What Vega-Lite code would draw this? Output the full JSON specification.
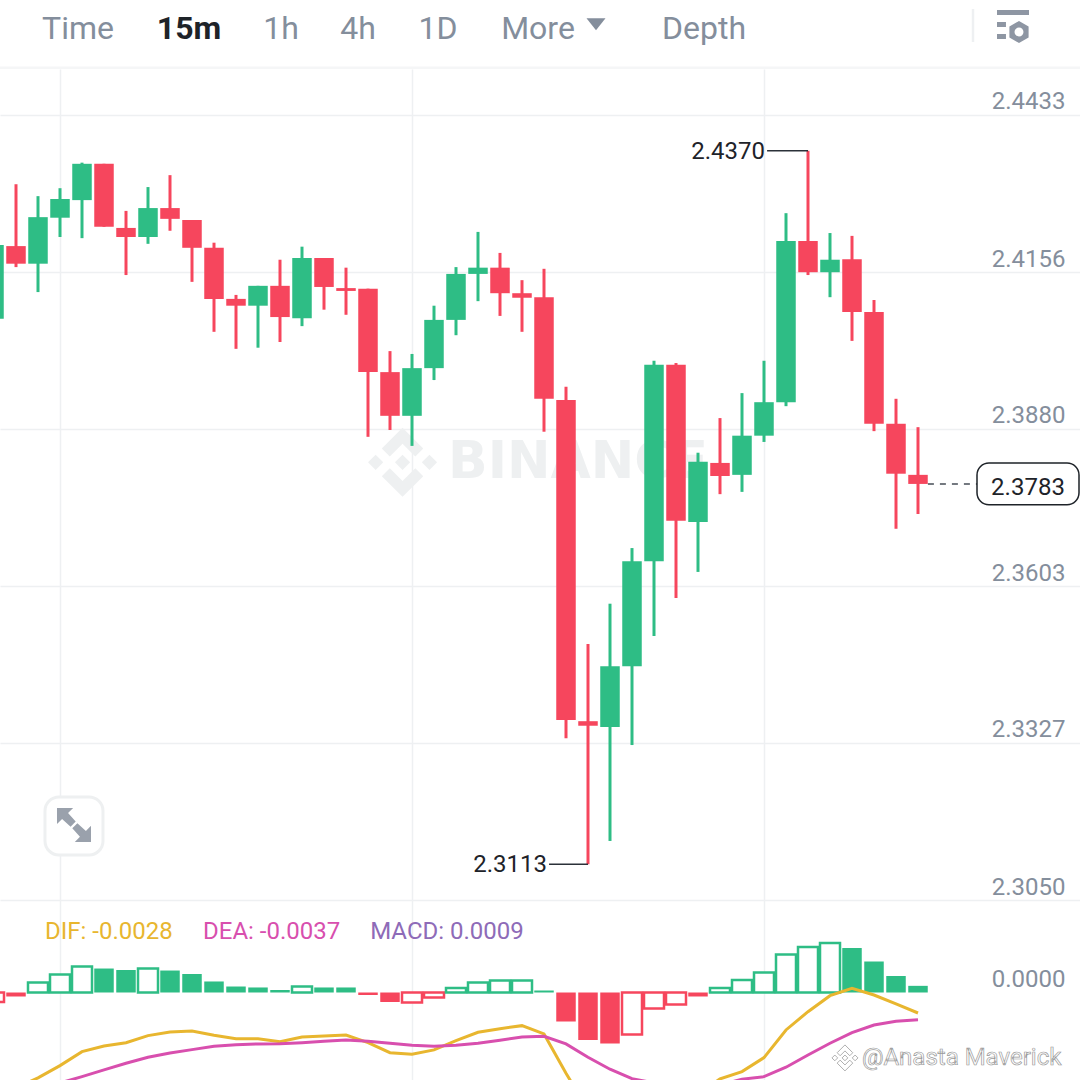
{
  "$schema": "https://vega.github.io/schema/vega-lite/v6.json",
  "description": "BNB style 15m candlestick chart with MACD panel",
  "padding": 0,
  "spacing": 0,
  "bounds": "flush",
  "background": "#ffffff",
  "config": {
    "view": {"stroke": null},
    "text": {"font": "Roboto"},
    "axis": {"labelFont": "Roboto"}
  },
  "datasets": {
    "one": [{}],
    "candles": [
      {"i":0,"open":2.4074,"high":2.4204,"low":2.4074,"close":2.4204},
      {"i":1,"open":2.4202,"high":2.4311,"low":2.4165,"close":2.4171},
      {"i":2,"open":2.4171,"high":2.4290,"low":2.4121,"close":2.4253},
      {"i":3,"open":2.4252,"high":2.4304,"low":2.4218,"close":2.4285},
      {"i":4,"open":2.4283,"high":2.4349,"low":2.4216,"close":2.4347},
      {"i":5,"open":2.4347,"high":2.4347,"low":2.4236,"close":2.4236},
      {"i":6,"open":2.4234,"high":2.4264,"low":2.4151,"close":2.4218},
      {"i":7,"open":2.4218,"high":2.4306,"low":2.4206,"close":2.4269},
      {"i":8,"open":2.4269,"high":2.4327,"low":2.4229,"close":2.4250},
      {"i":9,"open":2.4248,"high":2.4248,"low":2.4139,"close":2.4199},
      {"i":10,"open":2.4199,"high":2.4208,"low":2.4051,"close":2.4109},
      {"i":11,"open":2.4109,"high":2.4116,"low":2.4021,"close":2.4097},
      {"i":12,"open":2.4097,"high":2.4132,"low":2.4023,"close":2.4132},
      {"i":13,"open":2.4132,"high":2.4178,"low":2.4033,"close":2.4077},
      {"i":14,"open":2.4075,"high":2.4201,"low":2.4061,"close":2.4181},
      {"i":15,"open":2.4181,"high":2.4181,"low":2.4090,"close":2.4130},
      {"i":16,"open":2.4128,"high":2.4164,"low":2.4081,"close":2.4123},
      {"i":17,"open":2.4127,"high":2.4127,"low":2.3866,"close":2.3980},
      {"i":18,"open":2.3980,"high":2.4017,"low":2.3878,"close":2.3903},
      {"i":19,"open":2.3903,"high":2.4012,"low":2.3850,"close":2.3987},
      {"i":20,"open":2.3987,"high":2.4097,"low":2.3966,"close":2.4072},
      {"i":21,"open":2.4072,"high":2.4165,"low":2.4045,"close":2.4153},
      {"i":22,"open":2.4153,"high":2.4227,"low":2.4105,"close":2.4164},
      {"i":23,"open":2.4164,"high":2.4190,"low":2.4079,"close":2.4119},
      {"i":24,"open":2.4119,"high":2.4142,"low":2.4051,"close":2.4111},
      {"i":25,"open":2.4112,"high":2.4162,"low":2.3875,"close":2.3933},
      {"i":26,"open":2.3931,"high":2.3954,"low":2.3335,"close":2.3367},
      {"i":27,"open":2.3365,"high":2.3501,"low":2.3113,"close":2.3357},
      {"i":28,"open":2.3355,"high":2.3572,"low":2.3154,"close":2.3462},
      {"i":29,"open":2.3462,"high":2.3670,"low":2.3323,"close":2.3647},
      {"i":30,"open":2.3647,"high":2.4000,"low":2.3515,"close":2.3993},
      {"i":31,"open":2.3993,"high":2.3996,"low":2.3582,"close":2.3718},
      {"i":32,"open":2.3716,"high":2.3838,"low":2.3628,"close":2.3822},
      {"i":33,"open":2.3820,"high":2.3899,"low":2.3765,"close":2.3797},
      {"i":34,"open":2.3799,"high":2.3943,"low":2.3769,"close":2.3868},
      {"i":35,"open":2.3868,"high":2.4000,"low":2.3857,"close":2.3927},
      {"i":36,"open":2.3927,"high":2.4260,"low":2.3920,"close":2.4211},
      {"i":37,"open":2.4211,"high":2.4370,"low":2.4151,"close":2.4156},
      {"i":38,"open":2.4156,"high":2.4225,"low":2.4112,"close":2.4178},
      {"i":39,"open":2.4179,"high":2.4220,"low":2.4035,"close":2.4086},
      {"i":40,"open":2.4086,"high":2.4107,"low":2.3876,"close":2.3889},
      {"i":41,"open":2.3889,"high":2.3933,"low":2.3704,"close":2.3801},
      {"i":42,"open":2.3799,"high":2.3883,"low":2.3730,"close":2.3783}
    ],
    "macd": [
      {"i":0,"macd":-0.00128,"hollow":true,"dif":-0.01424,"dea":-0.01492},
      {"i":1,"macd":-0.00054,"hollow":false,"dif":-0.01289,"dea":-0.01397},
      {"i":2,"macd":0.00135,"hollow":true,"dif":-0.01154,"dea":-0.01316},
      {"i":3,"macd":0.00243,"hollow":true,"dif":-0.00988,"dea":-0.01222},
      {"i":4,"macd":0.00351,"hollow":true,"dif":-0.00799,"dea":-0.01137},
      {"i":5,"macd":0.00324,"hollow":false,"dif":-0.00722,"dea":-0.01046},
      {"i":6,"macd":0.00304,"hollow":false,"dif":-0.00678,"dea":-0.00956},
      {"i":7,"macd":0.00324,"hollow":true,"dif":-0.00583,"dea":-0.00875},
      {"i":8,"macd":0.00297,"hollow":false,"dif":-0.00533,"dea":-0.00817},
      {"i":9,"macd":0.00250,"hollow":false,"dif":-0.00520,"dea":-0.00772},
      {"i":10,"macd":0.00149,"hollow":false,"dif":-0.00578,"dea":-0.00726},
      {"i":11,"macd":0.00081,"hollow":false,"dif":-0.00624,"dea":-0.00705},
      {"i":12,"macd":0.00068,"hollow":false,"dif":-0.00624,"dea":-0.00695},
      {"i":13,"macd":0.00034,"hollow":false,"dif":-0.00664,"dea":-0.00691},
      {"i":14,"macd":0.00081,"hollow":true,"dif":-0.00601,"dea":-0.00678},
      {"i":15,"macd":0.00068,"hollow":false,"dif":-0.00587,"dea":-0.00659},
      {"i":16,"macd":0.00068,"hollow":false,"dif":-0.00574,"dea":-0.00641},
      {"i":17,"macd":-0.00034,"hollow":false,"dif":-0.00678,"dea":-0.00659},
      {"i":18,"macd":-0.00128,"hollow":false,"dif":-0.00813,"dea":-0.00686},
      {"i":19,"macd":-0.00135,"hollow":true,"dif":-0.00834,"dea":-0.00713},
      {"i":20,"macd":-0.00068,"hollow":true,"dif":-0.00776,"dea":-0.00726},
      {"i":21,"macd":0.00061,"hollow":true,"dif":-0.00651,"dea":-0.00713},
      {"i":22,"macd":0.00135,"hollow":true,"dif":-0.00537,"dea":-0.00686},
      {"i":23,"macd":0.00162,"hollow":true,"dif":-0.00489,"dea":-0.00645},
      {"i":24,"macd":0.00162,"hollow":true,"dif":-0.00448,"dea":-0.00601},
      {"i":25,"macd":0.00027,"hollow":false,"dif":-0.00560,"dea":-0.00591},
      {"i":26,"macd":-0.00392,"hollow":false,"dif":-0.01091,"dea":-0.00695},
      {"i":27,"macd":-0.00642,"hollow":false,"dif":-0.01586,"dea":-0.00875},
      {"i":28,"macd":-0.00689,"hollow":false,"dif":-0.01856,"dea":-0.01037},
      {"i":29,"macd":-0.00568,"hollow":true,"dif":-0.01856,"dea":-0.01164},
      {"i":30,"macd":-0.00216,"hollow":true,"dif":-0.01721,"dea":-0.01222},
      {"i":31,"macd":-0.00162,"hollow":true,"dif":-0.01559,"dea":-0.01262},
      {"i":32,"macd":-0.00054,"hollow":false,"dif":-0.01370,"dea":-0.01276},
      {"i":33,"macd":0.00061,"hollow":true,"dif":-0.01168,"dea":-0.01249},
      {"i":34,"macd":0.00169,"hollow":true,"dif":-0.01069,"dea":-0.01172},
      {"i":35,"macd":0.00270,"hollow":true,"dif":-0.00880,"dea":-0.01137},
      {"i":36,"macd":0.00513,"hollow":true,"dif":-0.00506,"dea":-0.01010},
      {"i":37,"macd":0.00615,"hollow":true,"dif":-0.00259,"dea":-0.00844},
      {"i":38,"macd":0.00669,"hollow":true,"dif":-0.00043,"dea":-0.00686},
      {"i":39,"macd":0.00601,"hollow":false,"dif":0.00057,"dea":-0.00543},
      {"i":40,"macd":0.00419,"hollow":false,"dif":-0.00034,"dea":-0.00439},
      {"i":41,"macd":0.00223,"hollow":false,"dif":-0.00155,"dea":-0.00389},
      {"i":42,"macd":0.0009,"hollow":false,"dif":-0.00277,"dea":-0.00367}
    ]
  },
  "vconcat": [
    {
      "width": 1080,
      "height": 69,
      "data": {"name": "one"},
      "layer": [
        {
          "mark": {"type": "rect", "color": "#F5F6F7"},
          "encoding": {
            "x": {"datum": 0, "type": "quantitative", "scale": {"domain": [0, 1080], "nice": false, "zero": false}, "axis": null},
            "x2": {"datum": 1080},
            "y": {"datum": 66.5, "type": "quantitative", "scale": {"domain": [69, 0], "nice": false, "zero": false}, "axis": null},
            "y2": {"datum": 69}
          }
        },
        {"mark": {"type": "text", "text": "Time", "fontSize": 32, "color": "#848E9C"}, "encoding": {"x": {"datum": 78, "type": "quantitative"}, "y": {"datum": 29, "type": "quantitative"}}},
        {"mark": {"type": "text", "text": "15m", "fontSize": 32, "fontWeight": 700, "color": "#1E2329"}, "encoding": {"x": {"datum": 189, "type": "quantitative"}, "y": {"datum": 29, "type": "quantitative"}}},
        {"mark": {"type": "text", "text": "1h", "fontSize": 32, "color": "#848E9C"}, "encoding": {"x": {"datum": 281, "type": "quantitative"}, "y": {"datum": 29, "type": "quantitative"}}},
        {"mark": {"type": "text", "text": "4h", "fontSize": 32, "color": "#848E9C"}, "encoding": {"x": {"datum": 358, "type": "quantitative"}, "y": {"datum": 29, "type": "quantitative"}}},
        {"mark": {"type": "text", "text": "1D", "fontSize": 32, "color": "#848E9C"}, "encoding": {"x": {"datum": 438, "type": "quantitative"}, "y": {"datum": 29, "type": "quantitative"}}},
        {"mark": {"type": "text", "text": "More", "fontSize": 32, "color": "#848E9C"}, "encoding": {"x": {"datum": 538, "type": "quantitative"}, "y": {"datum": 29, "type": "quantitative"}}},
        {"mark": {"type": "text", "text": "Depth", "fontSize": 32, "color": "#848E9C"}, "encoding": {"x": {"datum": 704, "type": "quantitative"}, "y": {"datum": 29, "type": "quantitative"}}},
        {
          "mark": {"type": "point", "filled": true, "opacity": 1, "color": "#848E9C", "size": 361, "shape": "M-1,-0.6H1L0,0.65Z"},
          "encoding": {"x": {"datum": 596, "type": "quantitative"}, "y": {"datum": 24, "type": "quantitative"}}
        },
        {
          "mark": {"type": "rule", "color": "#EEF0F2", "strokeWidth": 2.5},
          "encoding": {"x": {"datum": 973, "type": "quantitative"}, "y": {"datum": 9, "type": "quantitative"}, "y2": {"datum": 42}}
        },
        {
          "mark": {"type": "point", "filled": true, "opacity": 1, "color": "#8E96A3", "size": 1024, "shape": "M-1,-0.94H1V-0.625H-1ZM-1,-0.19H-0.44V0.125H-1ZM-1,0.56H-0.44V0.875H-1ZM0.375,-0.25L0.975,0.095V0.785L0.375,1.13L-0.225,0.785V0.095ZM0.375,0.16A0.28,0.28 0 1 0 0.375,0.72A0.28,0.28 0 1 0 0.375,0.16Z"},
          "encoding": {"x": {"datum": 1013, "type": "quantitative"}, "y": {"datum": 25, "type": "quantitative"}}
        }
      ]
    },
    {
      "width": 1080,
      "height": 831,
      "layer": [
        {
          "data": {"name": "one"},
          "mark": {"type": "text", "text": "BINANCE", "font": "DejaVu Sans", "fontWeight": 700, "fontSize": 52, "align": "left", "baseline": "middle", "color": "#EEF0F1"},
          "encoding": {
            "x": {
              "datum": 20.64,
              "type": "quantitative",
              "scale": {"domain": [0.2727, 49.3636], "nice": false, "zero": false, "padding": 0},
              "axis": {"values": [3, 19, 35], "grid": true, "gridColor": "#EEF0F2", "gridWidth": 1.5, "domain": false, "ticks": false, "labels": false, "title": null}
            },
            "y": {
              "datum": 2.3822,
              "type": "quantitative",
              "scale": {"domain": [2.305, 2.4514], "nice": false, "zero": false},
              "axis": {"orient": "right", "values": [2.4433, 2.4156, 2.388, 2.3603, 2.3327, 2.305], "format": ".4f", "grid": true, "gridColor": "#EEF0F2", "gridWidth": 1.5, "domain": false, "ticks": false, "title": null, "labelFontSize": 24, "labelColor": "#848E9C", "labelAlign": "right", "labelPadding": -15, "labelOffset": -13, "labelBound": false, "labelFlush": false, "labelOverlap": false}
            }
          }
        },
        {
          "data": {"name": "one"},
          "mark": {"type": "point", "filled": true, "opacity": 1, "color": "#EEF0F1", "size": 4761, "shape": "M0,-1L0.6,-0.4L0.37,-0.17L0,-0.54L-0.37,-0.17L-0.6,-0.4ZM0,1L0.6,0.4L0.37,0.17L0,0.54L-0.37,0.17L-0.6,0.4ZM0,-0.22L0.22,0L0,0.22L-0.22,0ZM-0.78,-0.22L-0.56,0L-0.78,0.22L-1,0ZM0.78,-0.22L1,0L0.78,0.22L0.56,0Z"},
          "encoding": {"x": {"datum": 18.57, "type": "quantitative"}, "y": {"datum": 2.3821, "type": "quantitative"}}
        },
        {
          "data": {"name": "candles"},
          "mark": {"type": "rule", "strokeWidth": 3, "clip": true},
          "encoding": {
            "x": {"field": "i", "type": "quantitative"},
            "y": {"field": "low", "type": "quantitative"},
            "y2": {"field": "high"},
            "color": {"condition": {"test": "datum.close >= datum.open", "value": "#2EBD85"}, "value": "#F6465D"}
          }
        },
        {
          "data": {"name": "candles"},
          "mark": {"type": "bar", "orient": "vertical", "width": 19.5, "clip": true},
          "encoding": {
            "x": {"field": "i", "type": "quantitative"},
            "y": {"field": "open", "type": "quantitative"},
            "y2": {"field": "close"},
            "color": {"condition": {"test": "datum.close >= datum.open", "value": "#2EBD85"}, "value": "#F6465D"}
          }
        },
        {
          "data": {"values": [{"label": "2.4370", "price": 2.437, "from": 35.14, "to": 37}, {"label": "2.3113", "price": 2.3113, "from": 25.23, "to": 27}]},
          "layer": [
            {
              "mark": {"type": "rule", "color": "#2B3139", "strokeWidth": 1.5},
              "encoding": {
                "x": {"field": "from", "type": "quantitative"},
                "x2": {"field": "to"},
                "y": {"field": "price", "type": "quantitative"}
              }
            },
            {
              "mark": {"type": "text", "align": "right", "baseline": "middle", "fontSize": 24, "color": "#1E2329", "dx": -2, "dy": 1},
              "encoding": {
                "x": {"field": "from", "type": "quantitative"},
                "y": {"field": "price", "type": "quantitative"},
                "text": {"field": "label"}
              }
            }
          ]
        },
        {
          "data": {"values": [{"label": "2.3783", "price": 2.3783, "from": 42.45, "to": 44.68, "mid": 47}]},
          "layer": [
            {
              "mark": {"type": "rule", "color": "#474D57", "strokeWidth": 1.5, "strokeDash": [6, 6]},
              "encoding": {
                "x": {"field": "from", "type": "quantitative"},
                "x2": {"field": "to"},
                "y": {"field": "price", "type": "quantitative"}
              }
            },
            {
              "mark": {"type": "point", "filled": true, "opacity": 1, "fill": "#ffffff", "stroke": "#1E2329", "strokeWidth": 1.5, "size": 10404, "shape": "M-0.765,-0.41H0.765A0.235,0.235 0 0 1 1,-0.175V0.175A0.235,0.235 0 0 1 0.765,0.41H-0.765A0.235,0.235 0 0 1 -1,0.175V-0.175A0.235,0.235 0 0 1 -0.765,-0.41Z"},
              "encoding": {
                "x": {"field": "mid", "type": "quantitative"},
                "y": {"field": "price", "type": "quantitative"}
              }
            },
            {
              "mark": {"type": "text", "fontSize": 24, "color": "#1E2329", "dy": 4},
              "encoding": {
                "x": {"field": "mid", "type": "quantitative"},
                "y": {"field": "price", "type": "quantitative"},
                "text": {"field": "label"}
              }
            }
          ]
        },
        {
          "data": {"name": "one"},
          "mark": {"type": "point", "filled": true, "opacity": 1, "fill": "#ffffff", "stroke": "#EEF0F1", "strokeWidth": 3, "size": 3364, "shape": "M-0.52,-1H0.52A0.48,0.48 0 0 1 1,-0.52V0.52A0.48,0.48 0 0 1 0.52,1H-0.52A0.48,0.48 0 0 1 -1,0.52V-0.52A0.48,0.48 0 0 1 -0.52,-1Z"},
          "encoding": {"x": {"datum": 3.636, "type": "quantitative"}, "y": {"datum": 2.31804, "type": "quantitative"}}
        },
        {
          "data": {"name": "one"},
          "mark": {"type": "point", "filled": true, "opacity": 1, "color": "#9AA1AC", "size": 1156, "shape": "M-1,-1L-0.05,-1L-0.35,-0.7L0.1,-0.2L-0.2,0.1L-0.7,-0.35L-1,-0.05ZM1,1L0.05,1L0.35,0.7L-0.1,0.2L0.2,-0.1L0.7,0.35L1,0.05Z"},
          "encoding": {"x": {"datum": 3.636, "type": "quantitative"}, "y": {"datum": 2.31822, "type": "quantitative"}}
        }
      ]
    },
    {
      "width": 1080,
      "height": 180,
      "layer": [
        {
          "data": {"name": "macd"},
          "transform": [{"filter": "!datum.hollow"}],
          "mark": {"type": "bar", "orient": "vertical", "width": 19.5, "clip": true},
          "encoding": {
            "x": {
              "field": "i",
              "type": "quantitative",
              "scale": {"domain": [0.2727, 49.3636], "nice": false, "zero": false, "padding": 0},
              "axis": {"values": [3, 19, 35], "grid": true, "gridColor": "#EEF0F2", "gridWidth": 1.5, "domain": false, "ticks": false, "labels": false, "title": null}
            },
            "y": {
              "field": "macd",
              "type": "quantitative",
              "scale": {"domain": [-0.011824, 0.0125], "nice": false, "zero": false},
              "axis": {"orient": "right", "values": [0], "format": ".4f", "grid": false, "domain": false, "ticks": false, "title": null, "labelFontSize": 24, "labelColor": "#848E9C", "labelAlign": "right", "labelPadding": -15, "labelOffset": -13, "labelBound": false, "labelFlush": false, "labelOverlap": false}
            },
            "y2": {"datum": 0},
            "color": {"condition": {"test": "datum.macd >= 0", "value": "#2EBD85"}, "value": "#F6465D"}
          }
        },
        {
          "data": {"name": "macd"},
          "transform": [{"filter": "datum.hollow"}],
          "mark": {"type": "bar", "orient": "vertical", "width": 20, "fill": "#ffffff", "strokeWidth": 2.5, "clip": true},
          "encoding": {
            "x": {"field": "i", "type": "quantitative"},
            "y": {"field": "macd", "type": "quantitative"},
            "y2": {"datum": 0},
            "stroke": {"condition": {"test": "datum.macd >= 0", "value": "#2EBD85"}, "value": "#F6465D"}
          }
        },
        {
          "data": {"name": "macd"},
          "mark": {"type": "line", "color": "#E8B62F", "strokeWidth": 3, "clip": true},
          "encoding": {
            "x": {"field": "i", "type": "quantitative"},
            "y": {"field": "dif", "type": "quantitative"}
          }
        },
        {
          "data": {"name": "macd"},
          "mark": {"type": "line", "color": "#D84FAE", "strokeWidth": 3, "clip": true},
          "encoding": {
            "x": {"field": "i", "type": "quantitative"},
            "y": {"field": "dea", "type": "quantitative"}
          }
        },
        {
          "data": {"name": "one"},
          "mark": {"type": "text", "text": "DIF: -0.0028", "align": "left", "fontSize": 24, "color": "#E8B62F"},
          "encoding": {"x": {"datum": 2.32, "type": "quantitative"}, "y": {"datum": 0.0082, "type": "quantitative"}}
        },
        {
          "data": {"name": "one"},
          "mark": {"type": "text", "text": "DEA: -0.0037", "align": "left", "fontSize": 24, "color": "#D84FAE"},
          "encoding": {"x": {"datum": 9.5, "type": "quantitative"}, "y": {"datum": 0.0082, "type": "quantitative"}}
        },
        {
          "data": {"name": "one"},
          "mark": {"type": "text", "text": "MACD: 0.0009", "align": "left", "fontSize": 24, "color": "#8E6BB8"},
          "encoding": {"x": {"datum": 17.1, "type": "quantitative"}, "y": {"datum": 0.0082, "type": "quantitative"}}
        },
        {
          "data": {"name": "one"},
          "mark": {"type": "text", "text": "@Anasta Maverick", "align": "left", "fontSize": 24, "fill": "#ffffff", "stroke": "#9A9A9A", "strokeWidth": 0.7},
          "encoding": {"x": {"datum": 39.45, "type": "quantitative"}, "y": {"datum": -0.00884, "type": "quantitative"}}
        },
        {
          "data": {"name": "one"},
          "mark": {"type": "point", "filled": true, "opacity": 1, "fill": "#ffffff", "stroke": "#9A9A9A", "strokeWidth": 0.8, "size": 676, "shape": "M0,-1L0.6,-0.4L0.37,-0.17L0,-0.54L-0.37,-0.17L-0.6,-0.4ZM0,1L0.6,0.4L0.37,0.17L0,0.54L-0.37,0.17L-0.6,0.4ZM0,-0.22L0.22,0L0,0.22L-0.22,0ZM-0.78,-0.22L-0.56,0L-0.78,0.22L-1,0ZM0.78,-0.22L1,0L0.78,0.22L0.56,0Z"},
          "encoding": {"x": {"datum": 38.68, "type": "quantitative"}, "y": {"datum": -0.00884, "type": "quantitative"}}
        }
      ]
    }
  ]
}
